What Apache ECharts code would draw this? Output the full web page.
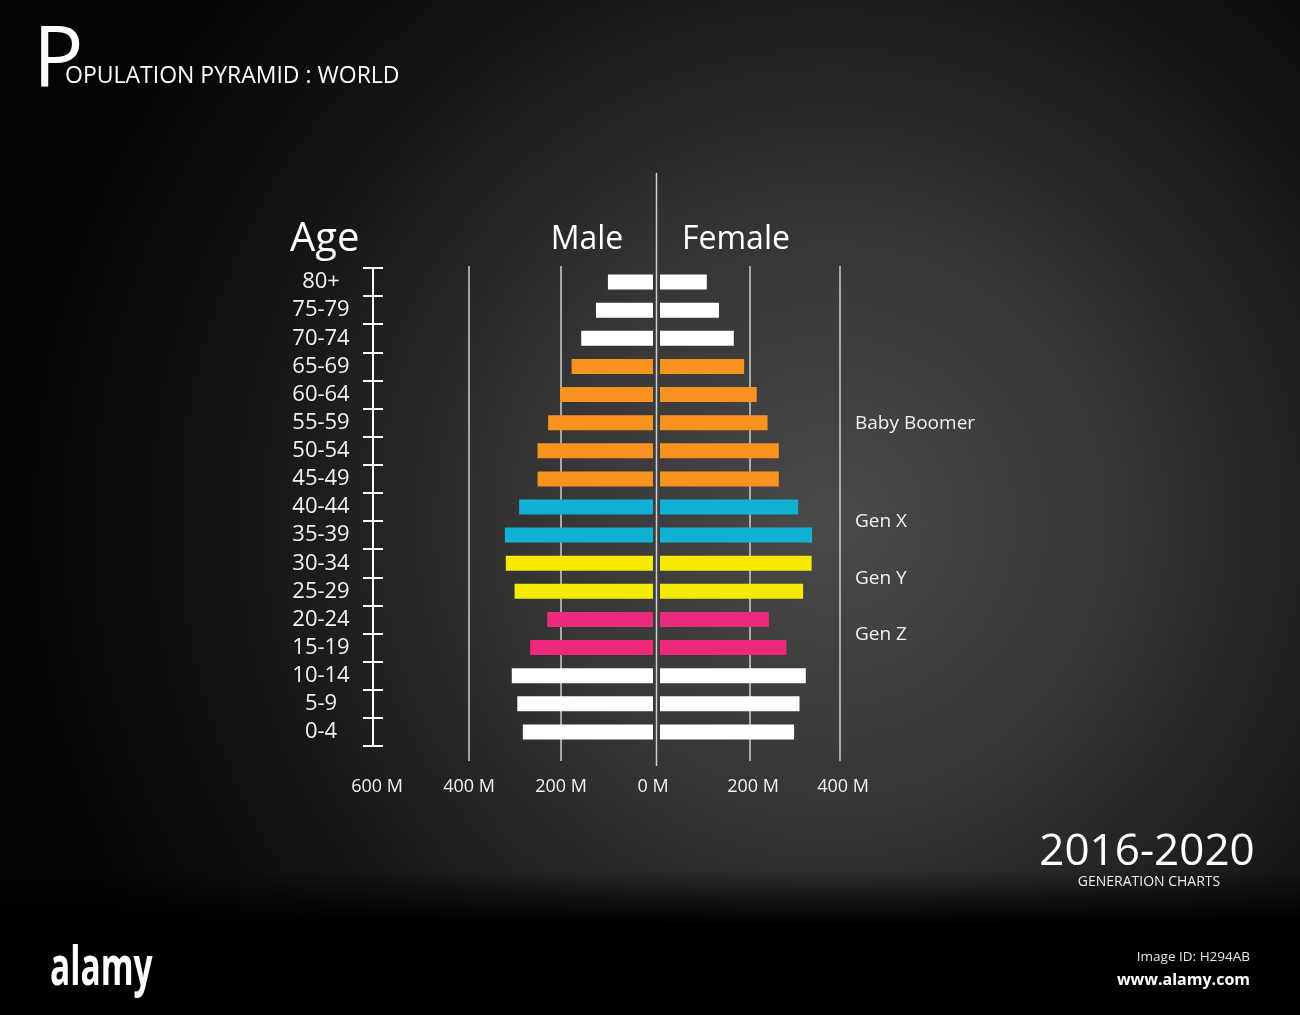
<!DOCTYPE html>
<html>
<head>
<meta charset="UTF-8">
<title>Population Pyramid : World</title>
<script src="https://cdn.jsdelivr.net/npm/echarts@6/dist/echarts.min.js"></script>
<style>
    html, body { margin: 0; padding: 0; background: #000; }
    #main { width: 1300px; height: 1015px; }
</style>
</head>
<body>
<div id="main"></div>
<script>
// age groups, top to bottom
var ages = ['80+', '75-79', '70-74', '65-69', '60-64', '55-59', '50-54', '45-49', '40-44',
            '35-39', '30-34', '25-29', '20-24', '15-19', '10-14', '5-9', '0-4'];
// population in millions
var male   = [98, 124, 156, 177, 202, 228, 251, 251, 291, 322, 320, 301, 230, 267, 307, 295, 283];
var female = [104, 131, 164, 187, 215, 239, 264, 264, 307, 338, 337, 318, 242, 281, 324, 310, 298];
// generation of each age row ('' = none)
var generation = ['', '', '', 'Baby Boomer', 'Baby Boomer', 'Baby Boomer', 'Baby Boomer', 'Baby Boomer',
                  'Gen X', 'Gen X', 'Gen Y', 'Gen Y', 'Gen Z', 'Gen Z', '', '', ''];
var genNames = ['Baby Boomer', 'Gen X', 'Gen Y', 'Gen Z'];

var genColor = {
    '': '#ffffff',
    'Baby Boomer': '#f7931e',
    'Gen X': '#0fb2d5',
    'Gen Y': '#f5ea00',
    'Gen Z': '#ec297b'
};
var font = '"Open Sans", "Noto Sans", sans-serif';
var txt = '#f2f2f2';

var chart = echarts.init(document.getElementById('main'));

function barColor(p) { return genColor[generation[p.dataIndex]]; }

var option = {
    backgroundColor: '#000',
    animation: false,
    textStyle: { fontFamily: font },
    grid: [
        // 0 male bars, 1 female bars
        { left: 377, top: 268, width: 276, height: 478 },
        { left: 660, top: 268, width: 184.5, height: 478 },
        // 2 male grid lines, 3 female grid lines
        { left: 377, top: 266, width: 276, height: 495 },
        { left: 660, top: 266, width: 184.5, height: 495 },
        // 4 age ticks + labels, 5 age axis line
        { left: 383, top: 268, width: 10, height: 478 },
        { left: 373, top: 268, width: 10, height: 478 }
    ],
    xAxis: [
        { gridIndex: 0, type: 'value', inverse: true, min: 0, max: 600, show: false },
        { gridIndex: 1, type: 'value', min: 0, max: 410, show: false },
        {
            gridIndex: 2, type: 'value', inverse: true, min: 0, max: 600, interval: 200,
            axisLine: { show: false }, axisTick: { show: false },
            axisLabel: { color: txt, fontSize: 18, margin: 17, formatter: '{value} M' },
            splitLine: { show: true, showMinLine: false, showMaxLine: false,
                         lineStyle: { color: '#cfcfcf', width: 1.5 } }
        },
        {
            gridIndex: 3, type: 'value', min: 0, max: 410, interval: 200,
            axisLine: { show: false }, axisTick: { show: false },
            axisLabel: { color: txt, fontSize: 18, margin: 17, formatter: '{value} M',
                         showMinLabel: false, showMaxLabel: false, padding: [0, 0, 0, 6] },
            splitLine: { show: true, showMinLine: false, showMaxLine: false,
                         lineStyle: { color: '#cfcfcf', width: 1.5 } }
        },
        { gridIndex: 4, type: 'value', show: false },
        { gridIndex: 5, type: 'value', show: false }
    ],
    yAxis: [
        { gridIndex: 0, type: 'category', data: ages, inverse: true, show: false },
        { gridIndex: 1, type: 'category', data: ages, inverse: true, show: false },
        { gridIndex: 2, type: 'value', show: false },
        { gridIndex: 3, type: 'value', show: false },
        {
            gridIndex: 4, type: 'category', data: ages, inverse: true, position: 'left',
            axisLine: { show: false },
            axisTick: { show: true, interval: 0, length: 20, lineStyle: { color: '#fff', width: 2 } },
            axisLabel: { interval: 0, color: txt, fontSize: 22, margin: 62, align: 'center' }
        },
        {
            gridIndex: 5, type: 'category', data: ages, inverse: true, position: 'left',
            axisLine: { show: true, onZero: false, lineStyle: { color: '#fff', width: 2 } },
            axisTick: { show: false },
            axisLabel: { show: false }
        }
    ],
    series: [
        {
            name: 'Male', type: 'bar', xAxisIndex: 0, yAxisIndex: 0,
            data: male, barWidth: 15, itemStyle: { color: barColor }
        },
        {
            name: 'Female', type: 'bar', xAxisIndex: 1, yAxisIndex: 1,
            data: female, barWidth: 15, itemStyle: { color: barColor }
        }
    ]
};
chart.setOption(option);

// generation labels, centred on their rows
var genText = genNames.map(function (g) {
    var first = generation.indexOf(g), last = generation.lastIndexOf(g);
    var y = (chart.convertToPixel({ yAxisIndex: 1 }, ages[first]) +
             chart.convertToPixel({ yAxisIndex: 1 }, ages[last])) / 2;
    return {
        type: 'text', x: 855, y: y + 1,
        style: { text: g, fill: txt, fontSize: 19, fontFamily: font, verticalAlign: 'middle' }
    };
});

chart.setOption({
    graphic: [
        {
            type: 'rect', z: -10, silent: true,
            shape: { x: 0, y: 0, width: 1300, height: 1015 },
            style: {
                fill: {
                    type: 'radial', x: 830, y: 520, r: 820, global: true,
                    colorStops: [
                        { offset: 0, color: '#4a4a4a' },
                        { offset: 0.35, color: '#363636' },
                        { offset: 0.7, color: '#161616' },
                        { offset: 1, color: '#040404' }
                    ]
                }
            }
        },
        {
            type: 'rect', z: -9, silent: true,
            shape: { x: 0, y: 870, width: 1300, height: 145 },
            style: {
                fill: {
                    type: 'linear', x: 0, y: 0, x2: 0, y2: 1,
                    colorStops: [
                        { offset: 0, color: 'rgba(0,0,0,0)' },
                        { offset: 0.37, color: '#000' },
                        { offset: 1, color: '#000' }
                    ]
                }
            }
        },
        // centre line
        {
            type: 'line', shape: { x1: 656.5, y1: 173, x2: 656.5, y2: 766 },
            style: { stroke: '#cfcfcf', lineWidth: 1.5 }
        },
        // title
        { type: 'text', x: 33, y: 63, style: { text: 'P', fill: '#fff', fontSize: 84, fontFamily: font, verticalAlign: 'middle' } },
        { type: 'text', x: 65, y: 76, style: { text: 'OPULATION PYRAMID : WORLD', fill: '#fff', fontSize: 23, fontFamily: font, verticalAlign: 'middle' } },
        // headers
        { type: 'text', x: 290, y: 240, style: { text: 'Age', fill: '#fff', fontSize: 40, fontFamily: font, verticalAlign: 'middle' } },
        { type: 'text', x: 587, y: 240, style: { text: 'Male', fill: '#fff', fontSize: 32, fontFamily: font, align: 'center', verticalAlign: 'middle' } },
        { type: 'text', x: 682, y: 240, style: { text: 'Female', fill: '#fff', fontSize: 32, fontFamily: font, verticalAlign: 'middle' } },
        // footer
        { type: 'text', x: 1147, y: 852, style: { text: '2016-2020', fill: '#fff', fontSize: 44, fontFamily: font, align: 'center', verticalAlign: 'middle' } },
        { type: 'text', x: 1149, y: 882, style: { text: 'GENERATION CHARTS', fill: '#eee', fontSize: 14, fontFamily: font, align: 'center', verticalAlign: 'middle' } },
        { type: 'text', x: 50, y: 970, scaleX: 0.62, style: { text: 'alamy', fill: '#fff', fontSize: 54, fontWeight: 'bold', fontFamily: font, verticalAlign: 'middle' } },
        { type: 'text', x: 1250, y: 957, style: { text: 'Image ID: H294AB', fill: '#e6e6e6', fontSize: 13.5, fontFamily: font, align: 'right', verticalAlign: 'middle' } },
        { type: 'text', x: 1250, y: 980, style: { text: 'www.alamy.com', fill: '#fff', fontSize: 16, fontWeight: 'bold', fontFamily: font, align: 'right', verticalAlign: 'middle' } }
    ].concat(genText)
});
</script>
</body>
</html>
